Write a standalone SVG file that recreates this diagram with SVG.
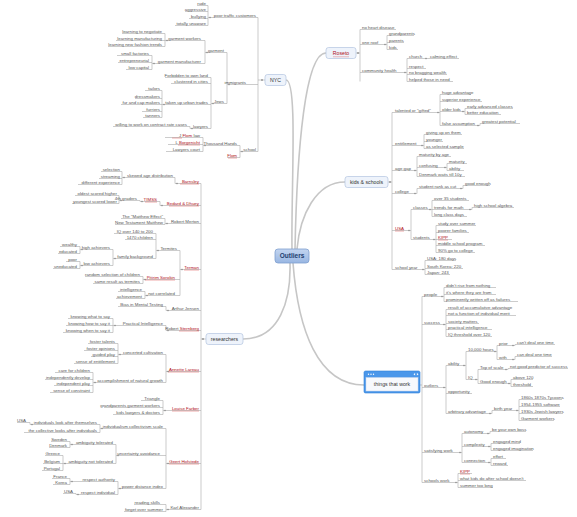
<svg xmlns="http://www.w3.org/2000/svg" xmlns:xlink="http://www.w3.org/1999/xlink" width="577" height="517" viewBox="0 0 577 517">
<style>
.t{font-family:"Liberation Sans",Arial,sans-serif;font-size:4.4px;fill:#555}
.e{text-anchor:end}
.r{fill:#b01020}
.u{stroke:#a9a9a9;stroke-width:0.6;fill:none}
.b{stroke:#a9a9a9;stroke-width:0.6;fill:none}
.m{stroke:#c6c6c6;stroke-width:1.6;fill:none}
.nd{fill:#eef3fb;stroke:#b3c4df;stroke-width:0.7}
.nt{font-family:"Liberation Sans",Arial,sans-serif;font-size:5.2px;fill:#333;text-anchor:middle}
</style>
<defs>
<linearGradient id="gOut" x1="0" y1="0" x2="0" y2="1"><stop offset="0" stop-color="#c3d5f0"/><stop offset="1" stop-color="#98b6e2"/></linearGradient>
<pattern id="zz" width="2" height="1.4" patternUnits="userSpaceOnUse"><path d="M0,0.3 L1,1.1 L2,0.3" stroke="#d01010" stroke-width="0.45" fill="none"/></pattern>
<circle id="mk" r="0.8" fill="#666"/>
</defs>
<rect width="577" height="517" fill="#fff"/>

<g id="connectors">
<path class="m" d="M286,80 C298,80 291,190 292,249"/>
<path class="m" d="M326,53 C305,53 297,150 295,249"/>
<path class="m" d="M345,182 C316,182 300,215 297,249"/>
<path class="m" d="M243,339 C280,339 291,300 290,263"/>
<path class="m" d="M364,385 C318,385 298,330 293,263"/>
<path class="b" d="M356,53H360 M360,29.5V81.5 M387,35.5V49.5 M407,58.5V81.5 M388,182H392 M392,112.5V269.5 M440,94.5V125.5 M465,108.5V114.5 M480,123.5V125.5 M424,134.5V148.5 M417,156.5V176.5 M447,163.5V170.5 M417,188.5V193.5 M463,185.5V188.5 M411,209.5V239.5 M432,200.5V216.5 M472,207.5V209.5 M436,225.5V252.5 M425,260.5V274.5 M420,385H422 M422,296.5V482.5 M444,287.5V301.5 M446,309.5V336.5 M446,365.5V413.5 M466,351.5V379.5 M497,345.5V359.5 M515,344.5V345.5 M515,356.5V359.5 M478,369.5V383.5 M508,368.5V369.5 M511,379.5V386.5 M492,410.5V413.5 M519,399.5V420.5 M462,433.5V462.5 M490,431.5V433.5 M491,443.5V450.5 M491,458.5V465.5 M458,473.5V487.5"/>
<path class="b" d="M258,80H265 M258,17.5V151.5 M208,5.5V25.5 M227,52.5V103.5 M205,40.5V63.5 M165,33.5V46.5 M152,55.5V69.5 M211,77.5V128.5 M162,90.5V117.5 M190,126.5V128.5 M240,145.5V157.5 M203,137.5V151.5 M201,339H206 M201,183.5V509.5 M175,177.5V183.5 M122,171.5V184.5 M160,201.5V205.5 M140,200.5V201.5 M119,195.5V203.5 M165,218.5V224.5 M180,250.5V295.5 M156,233.5V258.5 M113,249.5V265.5 M80,246.5V253.5 M80,261.5V268.5 M143,276.5V283.5 M145,291.5V298.5 M166,306.5V310.5 M166,325.5V330.5 M113,318.5V332.5 M166,354.5V382.5 M118,343.5V363.5 M93,372.5V392.5 M163,400.5V414.5 M166,428.5V488.5 M100,424.5V432.5 M30,422.5V424.5 M116,444.5V463.5 M70,441.5V447.5 M63,455.5V470.5 M118,481.5V494.5 M70,478.5V484.5 M76,493.5V494.5 M166,504.5V511.5"/>
<g>
<use href="#mk" x="358" y="53"/><use href="#mk" x="385" y="44.5"/><use href="#mk" x="405" y="72.5"/><use href="#mk" x="426" y="58.5"/>
<use href="#mk" x="390" y="182"/><use href="#mk" x="438" y="112.5"/><use href="#mk" x="463" y="111.5"/><use href="#mk" x="478" y="125.5"/><use href="#mk" x="422" y="145.5"/><use href="#mk" x="415" y="170.5"/><use href="#mk" x="445" y="167.5"/><use href="#mk" x="415" y="193.5"/><use href="#mk" x="461" y="188.5"/><use href="#mk" x="409" y="230.5"/><use href="#mk" x="430" y="209.5"/><use href="#mk" x="470" y="209.5"/><use href="#mk" x="434" y="239.5"/><use href="#mk" x="423" y="269.5"/>
<use href="#mk" x="442" y="296.5"/><use href="#mk" x="444" y="324.5"/><use href="#mk" x="444" y="387.5"/><use href="#mk" x="464" y="365.5"/><use href="#mk" x="495" y="351.5"/><use href="#mk" x="513" y="345.5"/><use href="#mk" x="513" y="359.5"/><use href="#mk" x="476" y="379.5"/><use href="#mk" x="506" y="369.5"/><use href="#mk" x="509" y="383.5"/><use href="#mk" x="490" y="413.5"/><use href="#mk" x="517" y="410.5"/><use href="#mk" x="460" y="452.5"/><use href="#mk" x="488" y="433.5"/><use href="#mk" x="489" y="446.5"/><use href="#mk" x="489" y="462.5"/><use href="#mk" x="456" y="482.5"/>
<use href="#mk" x="262" y="80"/><use href="#mk" x="210" y="17.5"/><use href="#mk" x="229" y="84.5"/><use href="#mk" x="207" y="52.5"/><use href="#mk" x="167" y="40.5"/><use href="#mk" x="154" y="63.5"/><use href="#mk" x="213" y="103.5"/><use href="#mk" x="164" y="104.5"/><use href="#mk" x="192" y="128.5"/><use href="#mk" x="242" y="151.5"/><use href="#mk" x="205" y="145.5"/>
<use href="#mk" x="203" y="339"/><use href="#mk" x="177" y="183.5"/><use href="#mk" x="124" y="177.5"/><use href="#mk" x="162" y="205.5"/><use href="#mk" x="142" y="201.5"/><use href="#mk" x="121" y="200.5"/><use href="#mk" x="167" y="223.5"/><use href="#mk" x="182" y="269.5"/><use href="#mk" x="158" y="250.5"/><use href="#mk" x="115" y="258.5"/><use href="#mk" x="82" y="249.5"/><use href="#mk" x="82" y="265.5"/><use href="#mk" x="145" y="279.5"/><use href="#mk" x="147" y="295.5"/><use href="#mk" x="168" y="310.5"/><use href="#mk" x="168" y="330.5"/><use href="#mk" x="115" y="325.5"/><use href="#mk" x="168" y="371.5"/><use href="#mk" x="120" y="354.5"/><use href="#mk" x="95" y="382.5"/><use href="#mk" x="165" y="410.5"/><use href="#mk" x="168" y="463.5"/><use href="#mk" x="102" y="428.5"/><use href="#mk" x="32" y="424.5"/><use href="#mk" x="118" y="455.5"/><use href="#mk" x="72" y="444.5"/><use href="#mk" x="65" y="463.5"/><use href="#mk" x="120" y="488.5"/><use href="#mk" x="72" y="481.5"/><use href="#mk" x="78" y="494.5"/><use href="#mk" x="168" y="509.5"/>
</g>
</g>

<g id="n-outliers">
<rect x="275" y="249" width="34" height="14" rx="3" fill="url(#gOut)" stroke="#7f9fcf" stroke-width="0.8"/>
<text x="292" y="258.3" style="font-family:'Liberation Sans',Arial,sans-serif;font-size:6.5px;font-weight:bold;fill:#1f3f6f;text-anchor:middle">Outliers</text>
</g>

<g id="n-roseto">
<rect class="nd" x="326" y="47.5" width="30" height="11" rx="2.5"/>
<text class="nt" x="341" y="54.8" style="fill:#b01020">Roseto</text>
<rect transform="translate(333,56)" width="16" height="1.4" fill="url(#zz)"/>
<path class="u" d="M360,29.5H396 M360,44.5H387 M387,35.5H414 M387,42.5H404 M387,49.5H398 M360,72.5H407 M407,58.5H428 M428,58.5H459 M407,68.5H426 M407,74.5H447 M407,81.5H453"/>
<text class="t" x="362" y="28.5">no heart disease</text>
<text class="t" x="362" y="43.5">one roof</text>
<text class="t" x="389" y="34.5">grandparents</text>
<text class="t" x="389" y="41.5">parents</text>
<text class="t" x="389" y="48.5">kids</text>
<text class="t" x="362" y="71.5">community health</text>
<text class="t" x="409" y="57.5">church</text>
<text class="t" x="430" y="57.5">calming effect</text>
<text class="t" x="409" y="67.5">respect</text>
<text class="t" x="409" y="73.5">no bragging wealth</text>
<text class="t" x="409" y="80.5">helped those in need</text>
</g>

<g id="n-kids">
<rect class="nd" x="345" y="176.5" width="43" height="11" rx="2.5"/>
<text class="nt" x="366.5" y="183.8">kids &amp; schools</text>
<path class="u" d="M392,112.5H440 M440,94.5H471 M440,101.5H482 M440,111.5H465 M465,108.5H513 M465,114.5H501 M440,125.5H480 M480,123.5H520 M392,145.5H424 M424,134.5H462 M424,141.5H443 M424,148.5H464 M392,170.5H417 M417,156.5H451 M417,167.5H447 M447,163.5H467 M447,170.5H464 M417,176.5H465 M392,193.5H417 M417,188.5H463 M463,185.5H490 M392,230.5H411 M411,209.5H432 M432,200.5H469 M432,209.5H472 M472,207.5H514 M432,216.5H467 M411,239.5H436 M436,225.5H476 M436,232.5H469 M436,239.5H452 M436,245.5H485 M436,252.5H475 M392,269.5H425 M425,260.5H456 M425,268.5H463 M425,274.5H450"/>
<text class="t" x="395" y="111.5">talented or "gifted"</text>
<text class="t" x="442" y="93.5">huge advantage</text>
<text class="t" x="442" y="100.5">superior experience</text>
<text class="t" x="442" y="110.5">older kids</text>
<text class="t" x="467" y="107.5">early advanced classes</text>
<text class="t" x="467" y="113.5">better education</text>
<text class="t" x="442" y="124.5">false assumption</text>
<text class="t" x="482" y="122.5">greatest potential</text>
<text class="t" x="395" y="144.5">entitlement</text>
<text class="t" x="426" y="133.5">giving up on them</text>
<text class="t" x="426" y="140.5">younger</text>
<text class="t" x="426" y="147.5">as selected sample</text>
<text class="t" x="395" y="169.5">age gap</text>
<text class="t" x="419" y="155.5">maturity by age</text>
<text class="t" x="419" y="166.5">confusing</text>
<text class="t" x="449" y="162.5">maturity</text>
<text class="t" x="449" y="169.5">ability</text>
<text class="t" x="419" y="175.5">Denmark waits till 10y</text>
<text class="t" x="395" y="192.5">college</text>
<text class="t" x="419" y="187.5">student rank as cut</text>
<text class="t" x="465" y="184.5">good enough</text>
<text class="t r" x="395" y="229.5">USA</text>
<rect transform="translate(395,230.3)" width="9" height="1.4" fill="url(#zz)"/>
<text class="t" x="413" y="208.5">classes</text>
<text class="t" x="434" y="199.5">over 35 students</text>
<text class="t" x="434" y="208.5">trends for math</text>
<text class="t" x="474" y="206.5">high school algebra</text>
<text class="t" x="434" y="215.5">long class days</text>
<text class="t" x="413" y="238.5">students</text>
<text class="t" x="438" y="224.5">study over summer</text>
<text class="t" x="438" y="231.5">poorer families</text>
<text class="t r" x="438" y="238.5">KIPP</text>
<rect transform="translate(438,239.3)" width="10" height="1.4" fill="url(#zz)"/>
<text class="t" x="438" y="244.5">middle school program</text>
<text class="t" x="438" y="251.5">90% go to college</text>
<text class="t" x="395" y="268.5">school year</text>
<text class="t" x="427" y="259.5">USA: 180 days</text>
<text class="t" x="427" y="267.5">South Korea: 220</text>
<text class="t" x="427" y="273.5">Japan: 243</text>
</g>

<g id="n-things">
<rect x="364" y="371" width="56" height="22" rx="1.5" fill="#4b97ea" stroke="#2f7fd8" stroke-width="0.6"/>
<rect x="366" y="377.5" width="52" height="13.5" fill="#f7f9fd" stroke="#c9d6ea" stroke-width="0.5"/>
<circle cx="368.5" cy="374.2" r="0.7" fill="#fff"/><circle cx="371" cy="374.2" r="0.7" fill="#fff"/><circle cx="373.5" cy="374.2" r="0.7" fill="#fff"/>
<path d="M413.5,374.2 l1.6,-1.2 v2.4z M418.5,374.2 l-1.6,-1.2 v2.4z" fill="#fff"/>
<text class="nt" x="392" y="386.3">things that work</text>
<path class="u" d="M422,296.5H444 M444,287.5H496 M444,294.5H496 M444,301.5H518 M422,324.5H446 M446,309.5H510 M446,315.5H516 M446,323.5H479 M446,329.5H492 M446,336.5H492 M422,387.5H446 M446,365.5H466 M466,351.5H497 M497,345.5H515 M515,344.5H555 M497,359.5H515 M515,356.5H552 M466,379.5H478 M478,369.5H508 M508,368.5H568 M478,383.5H511 M511,379.5H533 M511,386.5H533 M446,393.5H472 M446,413.5H492 M492,410.5H519 M519,399.5H562 M519,406.5H560 M519,413.5H563 M519,420.5H554 M422,452.5H462 M462,433.5H490 M490,431.5H526 M462,446.5H491 M491,443.5H520 M491,450.5H533 M462,462.5H491 M491,458.5H506 M491,465.5H508 M422,482.5H458 M458,473.5H472 M458,480.5H526 M458,487.5H493"/>
<text class="t" x="424" y="295.5">people</text>
<text class="t" x="446" y="286.5">didn't rise from nothing</text>
<text class="t" x="446" y="293.5">it's where they are from</text>
<text class="t" x="446" y="300.5">prominently written off as failures</text>
<text class="t" x="424" y="323.5">success</text>
<text class="t" x="448" y="308.5">result of accumulative advantage</text>
<text class="t" x="448" y="314.5">not a function of individual merit</text>
<text class="t" x="448" y="322.5">society matters</text>
<text class="t" x="448" y="328.5">practical intelligence</text>
<text class="t" x="448" y="335.5">IQ threshold over 120</text>
<text class="t" x="424" y="386.5">outliers</text>
<text class="t" x="448" y="364.5">ability</text>
<text class="t" x="468" y="350.5">10,000 hours</text>
<text class="t" x="499" y="344.5">prior</text>
<text class="t" x="517" y="343.5">can't deal one time</text>
<text class="t" x="499" y="358.5">with</text>
<text class="t" x="517" y="355.5">can deal one time</text>
<text class="t" x="468" y="378.5">IQ</text>
<text class="t" x="480" y="368.5">Top of scale</text>
<text class="t" x="510" y="367.5">not good predictor of success</text>
<text class="t" x="480" y="382.5">Good enough</text>
<text class="t" x="513" y="378.5">above 120</text>
<text class="t" x="513" y="385.5">threshold</text>
<text class="t" x="448" y="392.5">opportunity</text>
<text class="t" x="448" y="412.5">arbitrary advantage</text>
<text class="t" x="494" y="409.5">birth year</text>
<text class="t" x="521" y="398.5">1860s 1870s Tycoons</text>
<text class="t" x="521" y="405.5">1954-1955 software</text>
<text class="t" x="521" y="412.5">1930s Jewish lawyers</text>
<text class="t" x="521" y="419.5">Garment workers</text>
<text class="t" x="424" y="451.5">satisfying work</text>
<text class="t" x="464" y="432.5">autonomy</text>
<text class="t" x="492" y="430.5">be your own boss</text>
<text class="t" x="464" y="445.5">complexity</text>
<text class="t" x="493" y="442.5">engaged mind</text>
<text class="t" x="493" y="449.5">engaged imagination</text>
<text class="t" x="464" y="461.5">connection</text>
<text class="t" x="493" y="457.5">effort</text>
<text class="t" x="493" y="464.5">reward</text>
<text class="t" x="424" y="481.5">schools work</text>
<text class="t r" x="460" y="472.5">KIPP</text>
<rect transform="translate(460,473.3)" width="10" height="1.4" fill="url(#zz)"/>
<text class="t" x="460" y="479.5">what kids do after school doesn't</text>
<text class="t" x="460" y="486.5">summer too long</text>
</g>

<g id="n-nyc">
<rect class="nd" x="265" y="74.5" width="21" height="11" rx="2.5"/>
<text class="nt" x="275.5" y="81.8">NYC</text>
<path class="u" d="M208,17.5H258 M197,5.5H208 M185,11.5H208 M189,18.5H208 M175,25.5H208 M227,84.5H258 M205,52.5H227 M165,40.5H205 M122,33.5H165 M116,40.5H165 M108,46.5H165 M152,63.5H205 M117,55.5H152 M118,62.5H152 M126,69.5H152 M211,103.5H227 M165,77.5H211 M171,83.5H211 M162,104.5H211 M145,90.5H162 M135,98.5H162 M121,104.5H162 M142,111.5H162 M143,117.5H162 M190,128.5H211 M113,126.5H190 M240,151.5H258 M203,145.5H240 M165,137.5H203 M168,144.5H203 M166,151.5H203 M227,157.5H240"/>
<text class="t e" x="256" y="16.5">poor traffic customers</text>
<text class="t e" x="206" y="4.5">rude</text>
<text class="t e" x="206" y="10.5">aggressive</text>
<text class="t e" x="206" y="17.5">bullying</text>
<text class="t e" x="206" y="24.5">totally unaware</text>
<text class="t e" x="246" y="83.5">immigrants</text>
<text class="t e" x="224" y="51.5">garment</text>
<text class="t e" x="201" y="39.5">garment workers</text>
<text class="t e" x="162" y="32.5">learning to negotiate</text>
<text class="t e" x="162" y="39.5">learning manufacturing</text>
<text class="t e" x="162" y="45.5">learning new fashion trends</text>
<text class="t e" x="201" y="62.5">garment manufacturer</text>
<text class="t e" x="149" y="54.5">small factories</text>
<text class="t e" x="149" y="61.5">entrepreneurial</text>
<text class="t e" x="149" y="68.5">low capital</text>
<text class="t e" x="224" y="102.5">Jews</text>
<text class="t e" x="208" y="76.5">Forbidden to own land</text>
<text class="t e" x="208" y="82.5">clustered in cities</text>
<text class="t e" x="208" y="103.5">taken up urban trades</text>
<text class="t e" x="160" y="89.5">tailors</text>
<text class="t e" x="160" y="97.5">dressmakers</text>
<text class="t e" x="160" y="103.5">fur and cap makers</text>
<text class="t e" x="160" y="110.5">furriers</text>
<text class="t e" x="160" y="116.5">tanners</text>
<text class="t e" x="208" y="127.5">lawyers</text>
<text class="t e" x="187" y="125.5">willing to work on contract rate cases</text>
<text class="t e" x="256" y="150.5">school</text>
<text class="t e" x="237" y="144.5">Thousand Hands</text>
<text class="t e" x="200" y="136.5">J <tspan class="r">Flom</tspan> law</text>
<rect transform="translate(172,137.3)" width="10" height="1.4" fill="url(#zz)"/>
<text class="t e" x="200" y="143.5">L <tspan class="r">Borgenicht</tspan></text>
<rect transform="translate(178,144.3)" width="22" height="1.4" fill="url(#zz)"/>
<text class="t e" x="200" y="150.5">Lawyers court</text>
<text class="t e r" x="237" y="156.5">Flom</text>
<rect transform="translate(228,157.3)" width="9" height="1.4" fill="url(#zz)"/>
</g>

<g id="n-researchers">
<rect class="nd" x="206" y="333.5" width="37" height="11" rx="2.5"/>
<text class="nt" x="224.5" y="340.8">researchers</text>
<path class="u" d="M175,183.5H201 M122,177.5H175 M101,171.5H122 M99,178.5H122 M78,184.5H122 M160,205.5H201 M140,201.5H160 M119,200.5H140 M75,195.5H119 M72,203.5H119 M165,223.5H201 M121,218.5H165 M115,224.5H165 M180,269.5H201 M156,250.5H180 M114,233.5H156 M125,239.5H156 M113,258.5H156 M80,249.5H113 M60,246.5H80 M58,253.5H80 M80,265.5H113 M66,261.5H80 M53,268.5H80 M143,279.5H180 M85,276.5H143 M93,283.5H143 M145,295.5H180 M118,291.5H145 M116,298.5H145 M166,310.5H201 M118,306.5H166 M166,330.5H201 M113,325.5H166 M68,318.5H113 M66,325.5H113 M63,332.5H113 M166,371.5H201 M118,354.5H166 M88,343.5H118 M84,350.5H118 M91,356.5H118 M74,363.5H118 M93,382.5H166 M55,372.5H93 M45,379.5H93 M54,385.5H93 M50,392.5H93 M163,410.5H201 M141,400.5H163 M104,407.5H163 M113,414.5H163 M166,463.5H201 M100,428.5H166 M30,424.5H100 M17,422.5H30 M24,432.5H100 M116,455.5H166 M70,444.5H116 M51,441.5H70 M49,447.5H70 M63,463.5H116 M45,455.5H63 M43,463.5H63 M42,470.5H63 M118,488.5H166 M70,481.5H118 M52,478.5H70 M53,484.5H70 M76,494.5H118 M63,493.5H76 M166,509.5H201 M134,504.5H166 M124,511.5H166"/>
<text class="t e r" x="199" y="182.5">Barnsley</text>
<rect transform="translate(180,183.3)" width="19" height="1.4" fill="url(#zz)"/>
<text class="t e" x="173" y="176.5">skewed age distribution</text>
<text class="t e" x="120" y="170.5">selection</text>
<text class="t e" x="120" y="177.5">streaming</text>
<text class="t e" x="120" y="183.5">different experience</text>
<text class="t e r" x="199" y="204.5">Bedard &amp; Dhuey</text>
<rect transform="translate(169,205.3)" width="30" height="1.4" fill="url(#zz)"/>
<text class="t e r" x="157" y="200.5">TIMSS</text>
<rect transform="translate(145,201.3)" width="12" height="1.4" fill="url(#zz)"/>
<text class="t e" x="137" y="199.5">4th graders</text>
<text class="t e" x="117" y="194.5">oldest scored higher</text>
<text class="t e" x="117" y="202.5">youngest scored lower</text>
<text class="t e" x="199" y="222.5">Robert Merton</text>
<text class="t e" x="163" y="217.5">The "Matthew Effect"</text>
<text class="t e" x="163" y="223.5">New Testament Matthew</text>
<text class="t e r" x="199" y="268.5">Terman</text>
<rect transform="translate(184,269.3)" width="15" height="1.4" fill="url(#zz)"/>
<text class="t e" x="177" y="249.5">Termites</text>
<text class="t e" x="153" y="232.5">IQ over 140 to 200</text>
<text class="t e" x="153" y="238.5">1470 children</text>
<text class="t e" x="153" y="257.5">family background</text>
<text class="t e" x="110" y="248.5">high achievers</text>
<text class="t e" x="77" y="245.5">wealthy</text>
<text class="t e" x="77" y="252.5">educated</text>
<text class="t e" x="110" y="264.5">low achievers</text>
<text class="t e" x="77" y="260.5">poor</text>
<text class="t e" x="77" y="267.5">uneducated</text>
<text class="t e r" x="175" y="278.5">Pitirim Sorokin</text>
<rect transform="translate(145,279.3)" width="30" height="1.4" fill="url(#zz)"/>
<text class="t e" x="140" y="275.5">random selection of children</text>
<text class="t e" x="140" y="282.5">same result as termites</text>
<text class="t e" x="175" y="294.5">not correlated</text>
<text class="t e" x="142" y="290.5">intelligence</text>
<text class="t e" x="142" y="297.5">achievement</text>
<text class="t e" x="199" y="309.5">Arthur Jensen</text>
<text class="t e" x="163" y="305.5">Bias in Mental Testing</text>
<text class="t e" x="199" y="329.5">Robert <tspan class="r">Sternberg</tspan></text>
<rect transform="translate(179,330.3)" width="20" height="1.4" fill="url(#zz)"/>
<text class="t e" x="163" y="324.5">Practical Intelligence</text>
<text class="t e" x="110" y="317.5">knowing what to say</text>
<text class="t e" x="110" y="324.5">knowing how to say it</text>
<text class="t e" x="110" y="331.5">knowing when to say it</text>
<text class="t e r" x="199" y="370.5">Annette Lareau</text>
<rect transform="translate(168,371.3)" width="31" height="1.4" fill="url(#zz)"/>
<text class="t e" x="163" y="353.5">concerted cultivation</text>
<text class="t e" x="115" y="342.5">foster talents</text>
<text class="t e" x="115" y="349.5">foster opinions</text>
<text class="t e" x="115" y="355.5">guided play</text>
<text class="t e" x="115" y="362.5">sense of entitlement</text>
<text class="t e" x="163" y="381.5">accomplishment of natural growth</text>
<text class="t e" x="90" y="371.5">care for children</text>
<text class="t e" x="90" y="378.5">independently develop</text>
<text class="t e" x="90" y="384.5">independent play</text>
<text class="t e" x="90" y="391.5">sense of constraint</text>
<text class="t e r" x="199" y="409.5">Louise Farber</text>
<rect transform="translate(172,410.3)" width="27" height="1.4" fill="url(#zz)"/>
<text class="t e" x="160" y="399.5">Triangle</text>
<text class="t e" x="160" y="406.5">grandparents garment workers</text>
<text class="t e" x="160" y="413.5">kids lawyers &amp; doctors</text>
<text class="t e r" x="199" y="462.5">Geert Hofstede</text>
<rect transform="translate(169,463.3)" width="30" height="1.4" fill="url(#zz)"/>
<text class="t e" x="163" y="427.5">individualism collectivism scale</text>
<text class="t e" x="97" y="423.5">individuals look after themselves</text>
<text class="t e" x="26" y="421.5">USA</text>
<text class="t e" x="97" y="431.5">the collective looks after individuals</text>
<text class="t e" x="160" y="454.5">uncertainty avoidance</text>
<text class="t e" x="113" y="443.5">ambiguity tolerated</text>
<text class="t e" x="67" y="440.5">Sweden</text>
<text class="t e" x="67" y="446.5">Denmark</text>
<text class="t e" x="113" y="462.5">ambiguity not tolerated</text>
<text class="t e" x="60" y="454.5">Greece</text>
<text class="t e" x="60" y="462.5">Belgium</text>
<text class="t e" x="60" y="469.5">Portugal</text>
<text class="t e" x="163" y="487.5">power distance index</text>
<text class="t e" x="115" y="480.5">respect authority</text>
<text class="t e" x="67" y="477.5">France</text>
<text class="t e" x="67" y="483.5">Korea</text>
<text class="t e" x="115" y="493.5">respect individual</text>
<text class="t e" x="73" y="492.5">USA</text>
<text class="t e" x="199" y="508.5">Karl Alexander</text>
<text class="t e" x="160" y="503.5">reading skills</text>
<text class="t e" x="163" y="510.5">forget over summer</text>
</g>
</svg>
